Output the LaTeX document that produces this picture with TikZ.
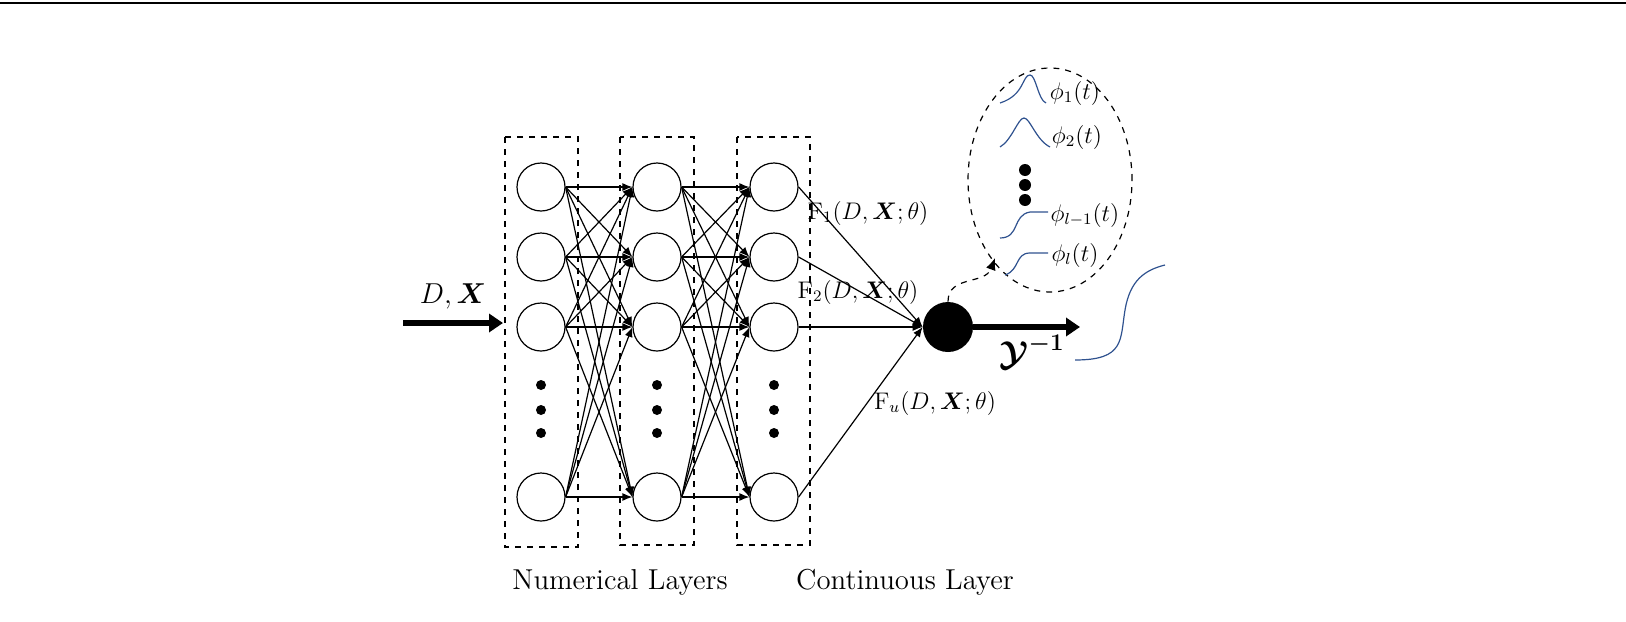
\documentclass[tikz,border=0pt]{standalone}
\usepackage{amsmath,bm}
\usetikzlibrary{arrows.meta,positioning,shapes.geometric}
\definecolor{curveblue}{RGB}{47,82,143}
\tikzset{
  neuron/.style={circle,draw,semithick,minimum size=24pt,inner sep=0pt},
  conn/.style={-{Latex[length=5pt,width=4pt]},semithick},
  layerbox/.style={draw,dashed,semithick},
  fat/.style={-{Triangle[length=7pt,width=9pt]},line width=3pt},
  curve/.style={curveblue,semithick},
  vdot/.style={circle,fill,inner sep=0pt,minimum size=5pt}
}
\begin{document}
\begin{tikzpicture}[x=0.5pt,y=-0.5pt,font=\Large]
\useasboundingbox (0,0) rectangle (1626,621);
\draw[semithick] (0,3) -- (1626,3);
% boxes
\draw[layerbox] (505,137) rectangle (578,547);
\draw[layerbox] (620,137) rectangle (694,545);
\draw[layerbox] (737,137) rectangle (810,545);
% neurons
\foreach \l/\x in {1/541,2/657,3/774}{
  \foreach \r/\y in {1/187,2/257,3/327,4/497}
    \node[neuron] (n\l\r) at (\x,\y) {};
  \foreach \y in {385,410,433}
    \node[vdot] at (\x,\y) {};
}
\foreach \a/\b in {1/2,2/3}
  \foreach \i in {1,...,4}
    \foreach \j in {1,...,4}
      \draw[conn] (n\a\i.east) -- (n\b\j.west);
% input
\coordinate (in) at (403,323);
\draw[fat] (in) -- (503,323) node[midway,above=2pt] {$D,\bm{X}$};
% output node
\node[circle,fill,minimum size=25pt,inner sep=0pt] (out) at (948,327) {};
\foreach \r in {1,...,4}
  \draw[conn] (n3\r.east) -- (out.west);
\node[font=\large] at (868,213) {$\mathrm{F}_1(D,\bm{X};\theta)$};
\node[font=\large] at (858,292) {$\mathrm{F}_2(D,\bm{X};\theta)$};
\node[font=\large] at (935,403) {$\mathrm{F}_u(D,\bm{X};\theta)$};
\coordinate (yend) at (1080,327);
\draw[fat] (out.east) -- (yend);
\node[font=\LARGE] at (1032,352) {$\bm{\mathcal{Y}^{-1}}$};
% basis ellipse
\node[draw,dashed,semithick,ellipse,minimum width=82pt,minimum height=112pt] (basis) at (1050,180) {};
\coordinate (bin) at (995,258);
\draw[dashed,semithick,-{Latex[length=6pt,width=5pt]}] (out.north) .. controls (948,275) and (985,285) .. (bin);
\draw[curve] (1000,103) .. controls (1025,95) and (1022,75) .. (1030,75) .. controls (1036,75) and (1038,100) .. (1046,103);
\draw[curve] (1000,147) .. controls (1012,140) and (1018,118) .. (1024,118) .. controls (1030,118) and (1036,140) .. (1050,147);
\draw[curve] (1000,238) .. controls (1020,238) and (1012,215) .. (1030,212) -- (1048,212);
\draw[curve] (1005,275) .. controls (1020,270) and (1015,253) .. (1030,253) -- (1048,253);
\foreach \y in {170,185,200} \node[vdot,minimum size=6pt] at (1025,\y) {};
\node[font=\large] at (1075,93) {$\phi_1(t)$};
\node[font=\large] at (1077,137) {$\phi_2(t)$};
\node[font=\large] at (1085,215) {$\phi_{l-1}(t)$};
\node[font=\large] at (1075,255) {$\phi_l(t)$};
\draw[curve] (1075,360) .. controls (1125,360) and (1120,340) .. (1125,310) .. controls (1130,280) and (1145,270) .. (1165,265);
% captions
\node at (620,582) {Numerical Layers};
\node at (905,582) {Continuous Layer};
\end{tikzpicture}
\end{document}
